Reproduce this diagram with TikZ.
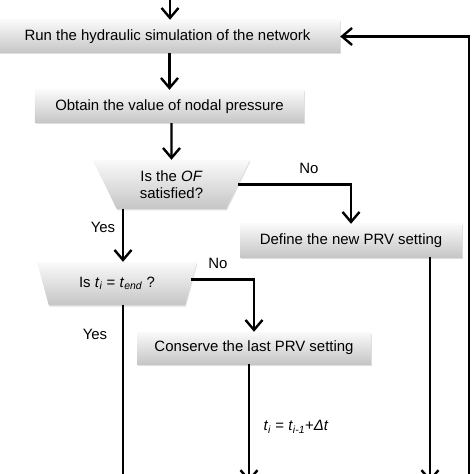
\documentclass[tikz,border=0pt]{standalone}
\usepackage{fontspec}
\setmainfont{Liberation Sans}
\usetikzlibrary{arrows.meta,shapes.geometric,shadows}
\begin{document}
\begin{tikzpicture}[x=1bp,y=-1bp,
  font=\fontsize{15}{17}\selectfont,
  shadefill/.style={top color=gray!4, bottom color=gray!45, draw=none,
    drop shadow={opacity=0.25, shadow xshift=0.6bp, shadow yshift=-1.5bp}},
  procbox/.style={shadefill, minimum height=33bp, inner sep=0pt},
  decide/.style={shadefill, trapezium, shape border rotate=180,
    trapezium stretches=true, trapezium angle=64, inner sep=0pt, align=center},
  conn/.style={line width=2.2bp, draw=black},
  arr/.style={conn, -{Straight Barb[length=10bp,width=17bp,line width=2.4bp]}},
  lbl/.style={inner sep=0pt}]
\clip (0,0) rectangle (474,474);
\useasboundingbox (0,0) rectangle (474,474);
\fill[white] (0,0) rectangle (474,474);

\node[procbox, minimum width=345bp] (run) at (167.5,36.5) {Run the hydraulic simulation of the network};
\node[procbox, minimum width=269bp] (obt) at (169.5,106.5) {Obtain the value of nodal pressure};
\node[decide, minimum width=157bp, minimum height=49bp] (q1) at (171.5,184.5) {Is the \textit{OF}\\[0pt] satisfied?};
\node[procbox, minimum width=222bp] (def) at (351,240.5) {Define the new PRV setting};
\node[decide, minimum width=160bp, minimum height=43bp] (q2) at (117,283.5) {Is \textit{t}\textsubscript{\textit{i}} = \textit{t}\textsubscript{\textit{end}} ?};
\node[procbox, minimum width=234bp, minimum height=32bp] (cons) at (254,348) {Conserve the last PRV setting};

\node[lbl] (no1) at (309,168) {No};
\node[lbl] (yes1) at (103,227) {Yes};
\node[lbl] (no2) at (218,263) {No};
\node[lbl] (yes2) at (95,334) {Yes};
\node[lbl] (tinc) at (296,427) {\textit{t}\textsubscript{\textit{i}} = \textit{t}\textsubscript{\textit{i-1}}+\textit{Δt}};

\coordinate (start) at (170,-5);
\coordinate (yx) at (123,0);
\coordinate (cx) at (249,0);
\coordinate (dx) at (430,0);
\coordinate (bot) at (0,482);
\coordinate (rb) at (469,490);

\draw[arr] (start) -- (start |- run.north);
\draw[arr] (run.south -| obt) -- (obt.north);
\draw[arr] (obt.south -| q1) -- (q1.north);
\draw[arr] (q1.east) -| (def.north);
\draw[arr] (q1.south -| yx) -- (q2.north -| yx);
\draw[arr] ([yshift=4bp]q2.east) -| (cons.north);
\draw[conn] (q2.south -| yx) -- (yx |- rb);
\draw[arr] (cons.south -| cx) -- (cx |- bot);
\draw[arr] (def.south -| dx) -- (dx |- bot);
\draw[arr] (rb) |- (run.east);
\end{tikzpicture}
\end{document}
